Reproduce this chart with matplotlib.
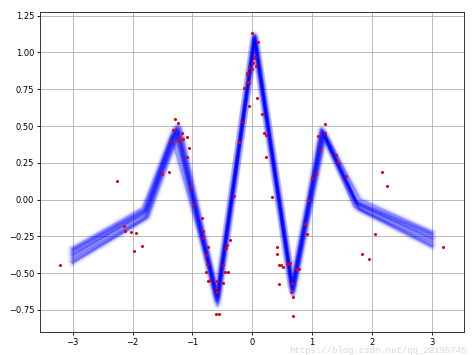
import numpy as np
import matplotlib
matplotlib.use("Agg")
import matplotlib.pyplot as plt

pts_x = [-3.21, -2.26, -2.14, -2.13, -2.03, -1.95, -1.97, -1.84,
         -1.51, -1.395, -1.295, -1.24, -1.32, -1.18, -1.355, -1.23, -1.22, -1.155,
         -1.09, -1.055, -1.09, -1.02, -0.99,
         -0.84, -0.817, -0.83, -0.733, -0.78, -0.76, -0.78, -0.74, -0.705,
         -0.583, -0.60, -0.583, -0.60, -0.56, -0.483, -0.488, -0.45, -0.405,
         -0.433, -0.417, -0.378, -0.31, -0.217, -0.15, -0.133,
         0.0, 0.095, 0.05, 0.033, 0.005, 0.06, -0.05, -0.005, -0.09, -0.095,
         -0.067, -0.05, 0.078, -0.055, 0.167, 0.195, 0.233, 0.233, 0.333,
         0.417, 0.41, 0.445, 0.478, 0.522, 0.583, 0.638, 0.728, 0.788,
         0.455, 0.672, 0.65, 0.688, 0.688,
         0.883, 0.917, 0.94, 0.995, 1.067, 1.095, 1.14, 1.21, 1.217,
         1.40, 1.428, 1.56, 1.828, 1.945, 2.055, 2.17, 2.25, 3.195]
pts_y = [-0.448, 0.123, -0.177, -0.214, -0.22, -0.225, -0.348, -0.318,
         0.177, 0.19, 0.545, 0.52, 0.47, 0.45, 0.40, 0.42, 0.40, 0.415,
         0.425, 0.35, 0.29, 0.086, -0.03,
         -0.127, -0.211, -0.264, -0.325, -0.375, -0.438, -0.493, -0.554, -0.55,
         -0.554, -0.60, -0.63, -0.777, -0.777, -0.566, -0.445, -0.493, -0.495,
         -0.332, -0.307, -0.277, 0.027, 0.39, 0.525, 0.755,
         1.13, 1.07, 0.97, 0.96, 0.93, 0.907, 0.90, 0.89, 0.857, 0.845,
         0.80, 0.79, 0.693, 0.636, 0.584, 0.455, 0.441, 0.288, 0.016,
         -0.32, -0.37, -0.443, -0.445, -0.457, -0.441, -0.429, -0.472, -0.472,
         -0.577, -0.566, -0.627, -0.661, -0.793,
         -0.164, -0.234, 0.0, 0.15, 0.172, 0.432, 0.336, 0.513, 0.45,
         0.305, 0.252, 0.159, -0.37, -0.407, -0.234, 0.19, 0.095, -0.32]

curves_x = [
    [-3.0, -1.80, -1.27, -0.58, 0.03, 0.66, 1.17, 1.74, 3.0],
    [-3.0, -1.74, -1.22, -0.57, 0.05, 0.68, 1.19, 1.78, 3.0],
    [-3.0, -1.83, -1.31, -0.59, 0.04, 0.67, 1.21, 1.81, 3.0],
    [-3.0, -1.76, -1.24, -0.58, 0.04, 0.68, 1.16, 1.71, 3.0],
    [-3.0, -1.78, -1.35, -0.57, 0.03, 0.66, 1.18, 1.76, 3.0],
    [-3.0, -1.79, -1.26, -0.60, 0.05, 0.69, 1.22, 1.79, 3.0],
    [-3.0, -1.77, -1.20, -0.58, 0.04, 0.67, 1.15, 1.73, 3.0],
    [-3.0, -1.81, -1.28, -0.59, 0.04, 0.67, 1.19, 1.75, 3.0],
]
curves_y = [
    [-0.35, -0.07, 0.49, -0.66, 1.09, -0.60, 0.47, -0.02, -0.24],
    [-0.42, -0.12, 0.46, -0.70, 1.11, -0.63, 0.44, -0.06, -0.31],
    [-0.33, -0.06, 0.47, -0.64, 1.08, -0.58, 0.45, 0.00, -0.22],
    [-0.40, -0.11, 0.50, -0.72, 1.12, -0.65, 0.48, -0.05, -0.29],
    [-0.37, -0.09, 0.43, -0.67, 1.10, -0.61, 0.46, -0.03, -0.26],
    [-0.43, -0.13, 0.48, -0.69, 1.09, -0.62, 0.42, -0.07, -0.32],
    [-0.34, -0.07, 0.49, -0.65, 1.11, -0.59, 0.47, -0.01, -0.23],
    [-0.38, -0.09, 0.47, -0.68, 1.10, -0.61, 0.46, -0.03, -0.27],
]

fig = plt.figure(figsize=(4.74, 3.55), dpi=100)
ax = fig.add_axes([0.0844, 0.0648, 0.8935, 0.9023])

for cx, cy in zip(curves_x, curves_y):
    ax.plot(cx, cy, color='b', alpha=0.05, linewidth=6.0)
    ax.plot(cx, cy, color='b', alpha=0.14, linewidth=3.0)
    ax.plot(cx, cy, color='b', alpha=0.22, linewidth=1.4)

ax.plot(pts_x, pts_y, 'o', color='#e00010', markersize=2.2, markeredgewidth=0, zorder=5)

ax.set_xlim(-3.547, 3.532)
ax.set_ylim(-0.90, 1.277)
ax.set_xticks([-3, -2, -1, 0, 1, 2, 3])
ax.set_yticks([-0.75, -0.5, -0.25, 0.0, 0.25, 0.5, 0.75, 1.0, 1.25])
ax.grid(True, color='#b0b0b0', linewidth=0.6)
ax.set_axisbelow(True)
ax.tick_params(labelsize=6, length=2.2, width=0.6, pad=2)
for s in ax.spines.values():
    s.set_linewidth(0.7)
    s.set_color('#333333')

# watermark of the source image
fig.text(0.985, 0.0, 'https://blog.csdn.net/qq_20195745', ha='right', va='bottom',
         fontsize=6.5, color='#d8d8d8', family='Liberation Mono')

fig.savefig('out.png', dpi=100)
